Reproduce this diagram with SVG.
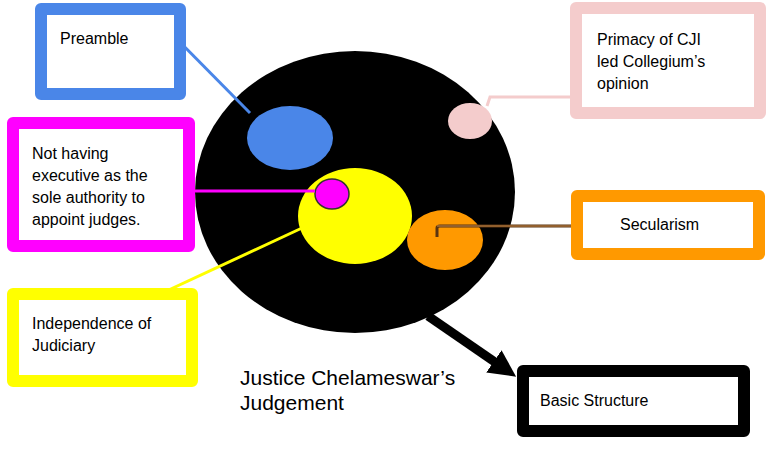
<svg xmlns="http://www.w3.org/2000/svg" width="768" height="451" viewBox="0 0 768 451">
<style>
text{font-family:"Liberation Sans",Arial,sans-serif;font-size:16px;fill:#000}
.box{fill:#fff;stroke-width:12;stroke-linejoin:round}
</style>
<defs>
<marker id="ab" markerWidth="3" markerHeight="3" refX="1.5" refY="1.5" orient="auto" markerUnits="strokeWidth"><path d="M0,0L3,1.5L0,3z" fill="#000"/></marker>
<marker id="ao" markerWidth="8" markerHeight="8" refX="6" refY="4" orient="auto" markerUnits="userSpaceOnUse"><path d="M0,1L6,4L0,7" fill="none" stroke="#5a3410" stroke-width="1.5"/></marker>
</defs>
<rect width="768" height="451" fill="#fff"/>
<g id="center">
<ellipse cx="355" cy="192" rx="160" ry="141" fill="#000"/>
<ellipse cx="290" cy="138" rx="43" ry="32" fill="#4a86e8"/>
<ellipse cx="470" cy="121" rx="22" ry="18" fill="#f4cccc"/>
<ellipse cx="355" cy="216" rx="57" ry="48" fill="#ffff00"/>
<ellipse cx="445" cy="240" rx="38" ry="30" fill="#ff9900"/>
<ellipse cx="332" cy="194" rx="17" ry="15" fill="#ff00ff" stroke="#333" stroke-width="1.5"/>
</g>
<g id="connectors" fill="none">
<path d="M165,27L250,113" stroke="#4a86e8" stroke-width="3"/>
<path d="M487,106L490,97L575,97" stroke="#f4cccc" stroke-width="3"/>
<path d="M165,191L315,191" stroke="#ff00ff" stroke-width="3"/>
<path d="M130,308L302,228" stroke="#ffff00" stroke-width="3"/>
<path d="M437,237L437,228Q437,226 440,226L595,226" stroke="#5a3410" stroke-width="3" marker-end="url(#ao)"/>
<path d="M437,226L590,226" stroke="#c98a4a" stroke-width="1"/>
<path d="M428,316L505,369" stroke="#000" stroke-width="9" marker-end="url(#ab)"/>
</g>
<g id="preamble"><rect class="box" x="41" y="9" width="139" height="85" stroke="#4a86e8"/><text x="60" y="44">Preamble</text></g>
<g id="primacy"><rect class="box" x="576" y="8" width="184" height="105" stroke="#f4cccc" stroke-width="10"/><text x="597" y="45">Primacy of CJI</text><text x="597" y="67">led Collegium’s</text><text x="597" y="89">opinion</text></g>
<g id="executive"><rect class="box" x="13" y="123" width="176" height="123" stroke="#ff00ff"/><text x="32" y="159">Not having</text><text x="32" y="181">executive as the</text><text x="32" y="203">sole authority to</text><text x="32" y="225">appoint judges.</text></g>
<g id="secularism"><rect class="box" x="577" y="196" width="182" height="58" stroke="#ff9900"/><text x="620" y="230">Secularism</text></g>
<g id="independence"><rect class="box" x="13" y="294" width="179" height="87" stroke="#ffff00"/><text x="32" y="329">Independence of</text><text x="32" y="351">Judiciary</text></g>
<g id="basic"><rect class="box" x="523" y="371" width="221" height="60" stroke="#000"/><text x="540" y="406">Basic Structure</text></g>
<g id="title"><text x="240" y="385" style="font-size:21px">Justice Chelameswar’s</text><text x="240" y="410" style="font-size:21px">Judgement</text></g>
</svg>
